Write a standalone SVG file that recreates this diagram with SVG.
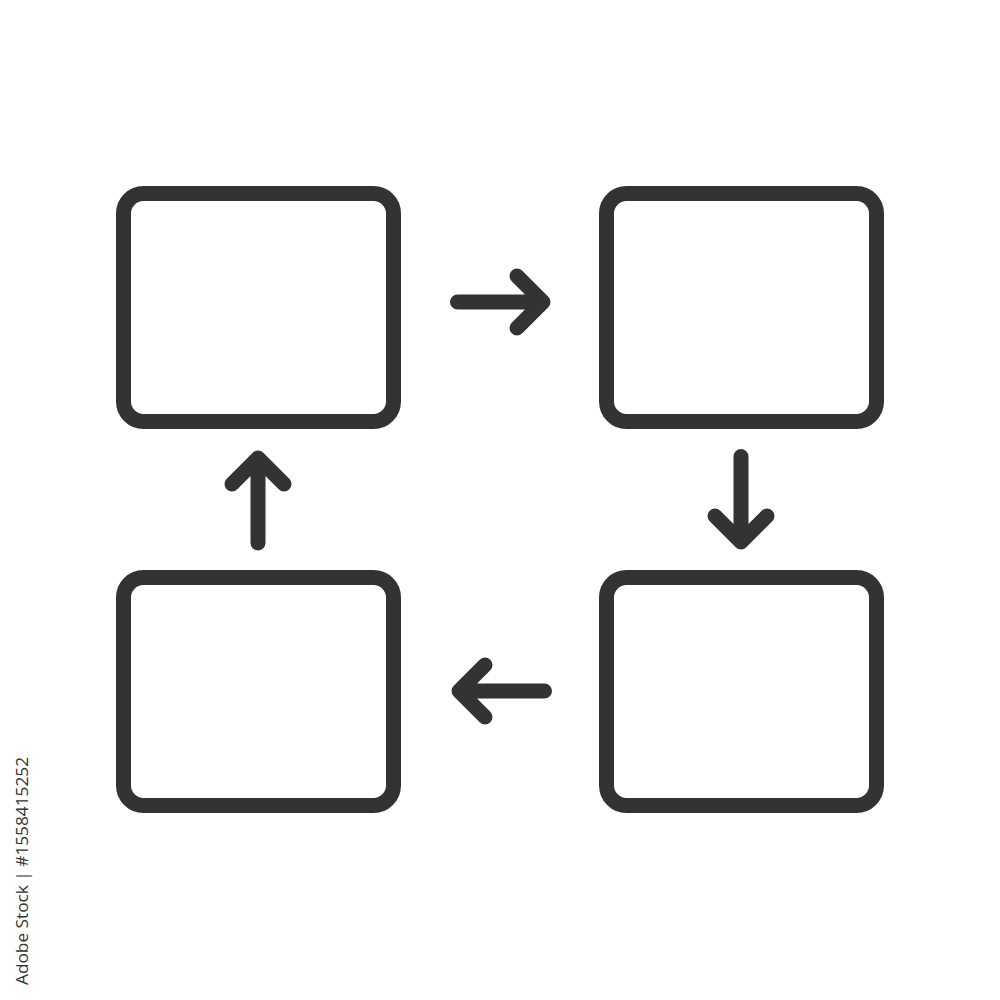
<svg xmlns="http://www.w3.org/2000/svg" width="1000" height="1000" viewBox="0 0 1000 1000">
<style>
.box{fill:#fff;stroke:#333;stroke-width:15}
.arr{fill:none;stroke:#333;stroke-width:15;stroke-linecap:round;stroke-linejoin:round}
.credit{font-family:"Open Sans","Noto Sans",sans-serif;font-size:16px;fill:#333}
</style>
<rect width="1000" height="1000" fill="#fff"/>
<g id="node-top-left"><rect class="box" x="123.5" y="193.5" width="270" height="228" rx="20"/></g>
<g id="node-top-right"><rect class="box" x="606.5" y="193.5" width="270" height="228" rx="20"/></g>
<g id="node-bottom-right"><rect class="box" x="606.5" y="577.5" width="270" height="228" rx="20"/></g>
<g id="node-bottom-left"><rect class="box" x="123.5" y="577.5" width="270" height="228" rx="20"/></g>
<g id="connectors">
<path class="arr" d="M457.5 302 H543 M517 276 L543 302 L517 328"/>
<path class="arr" d="M741 456.5 V542 M715 516 L741 542 L767 516"/>
<path class="arr" d="M544.5 691 H459 M485 665 L459 691 L485 717"/>
<path class="arr" d="M258 543 V458 M232 484 L258 458 L284 484"/>
</g>
<text class="credit" transform="translate(28,985) rotate(-90)" textLength="228" lengthAdjust="spacingAndGlyphs">Adobe Stock | #1558415252</text>
</svg>
